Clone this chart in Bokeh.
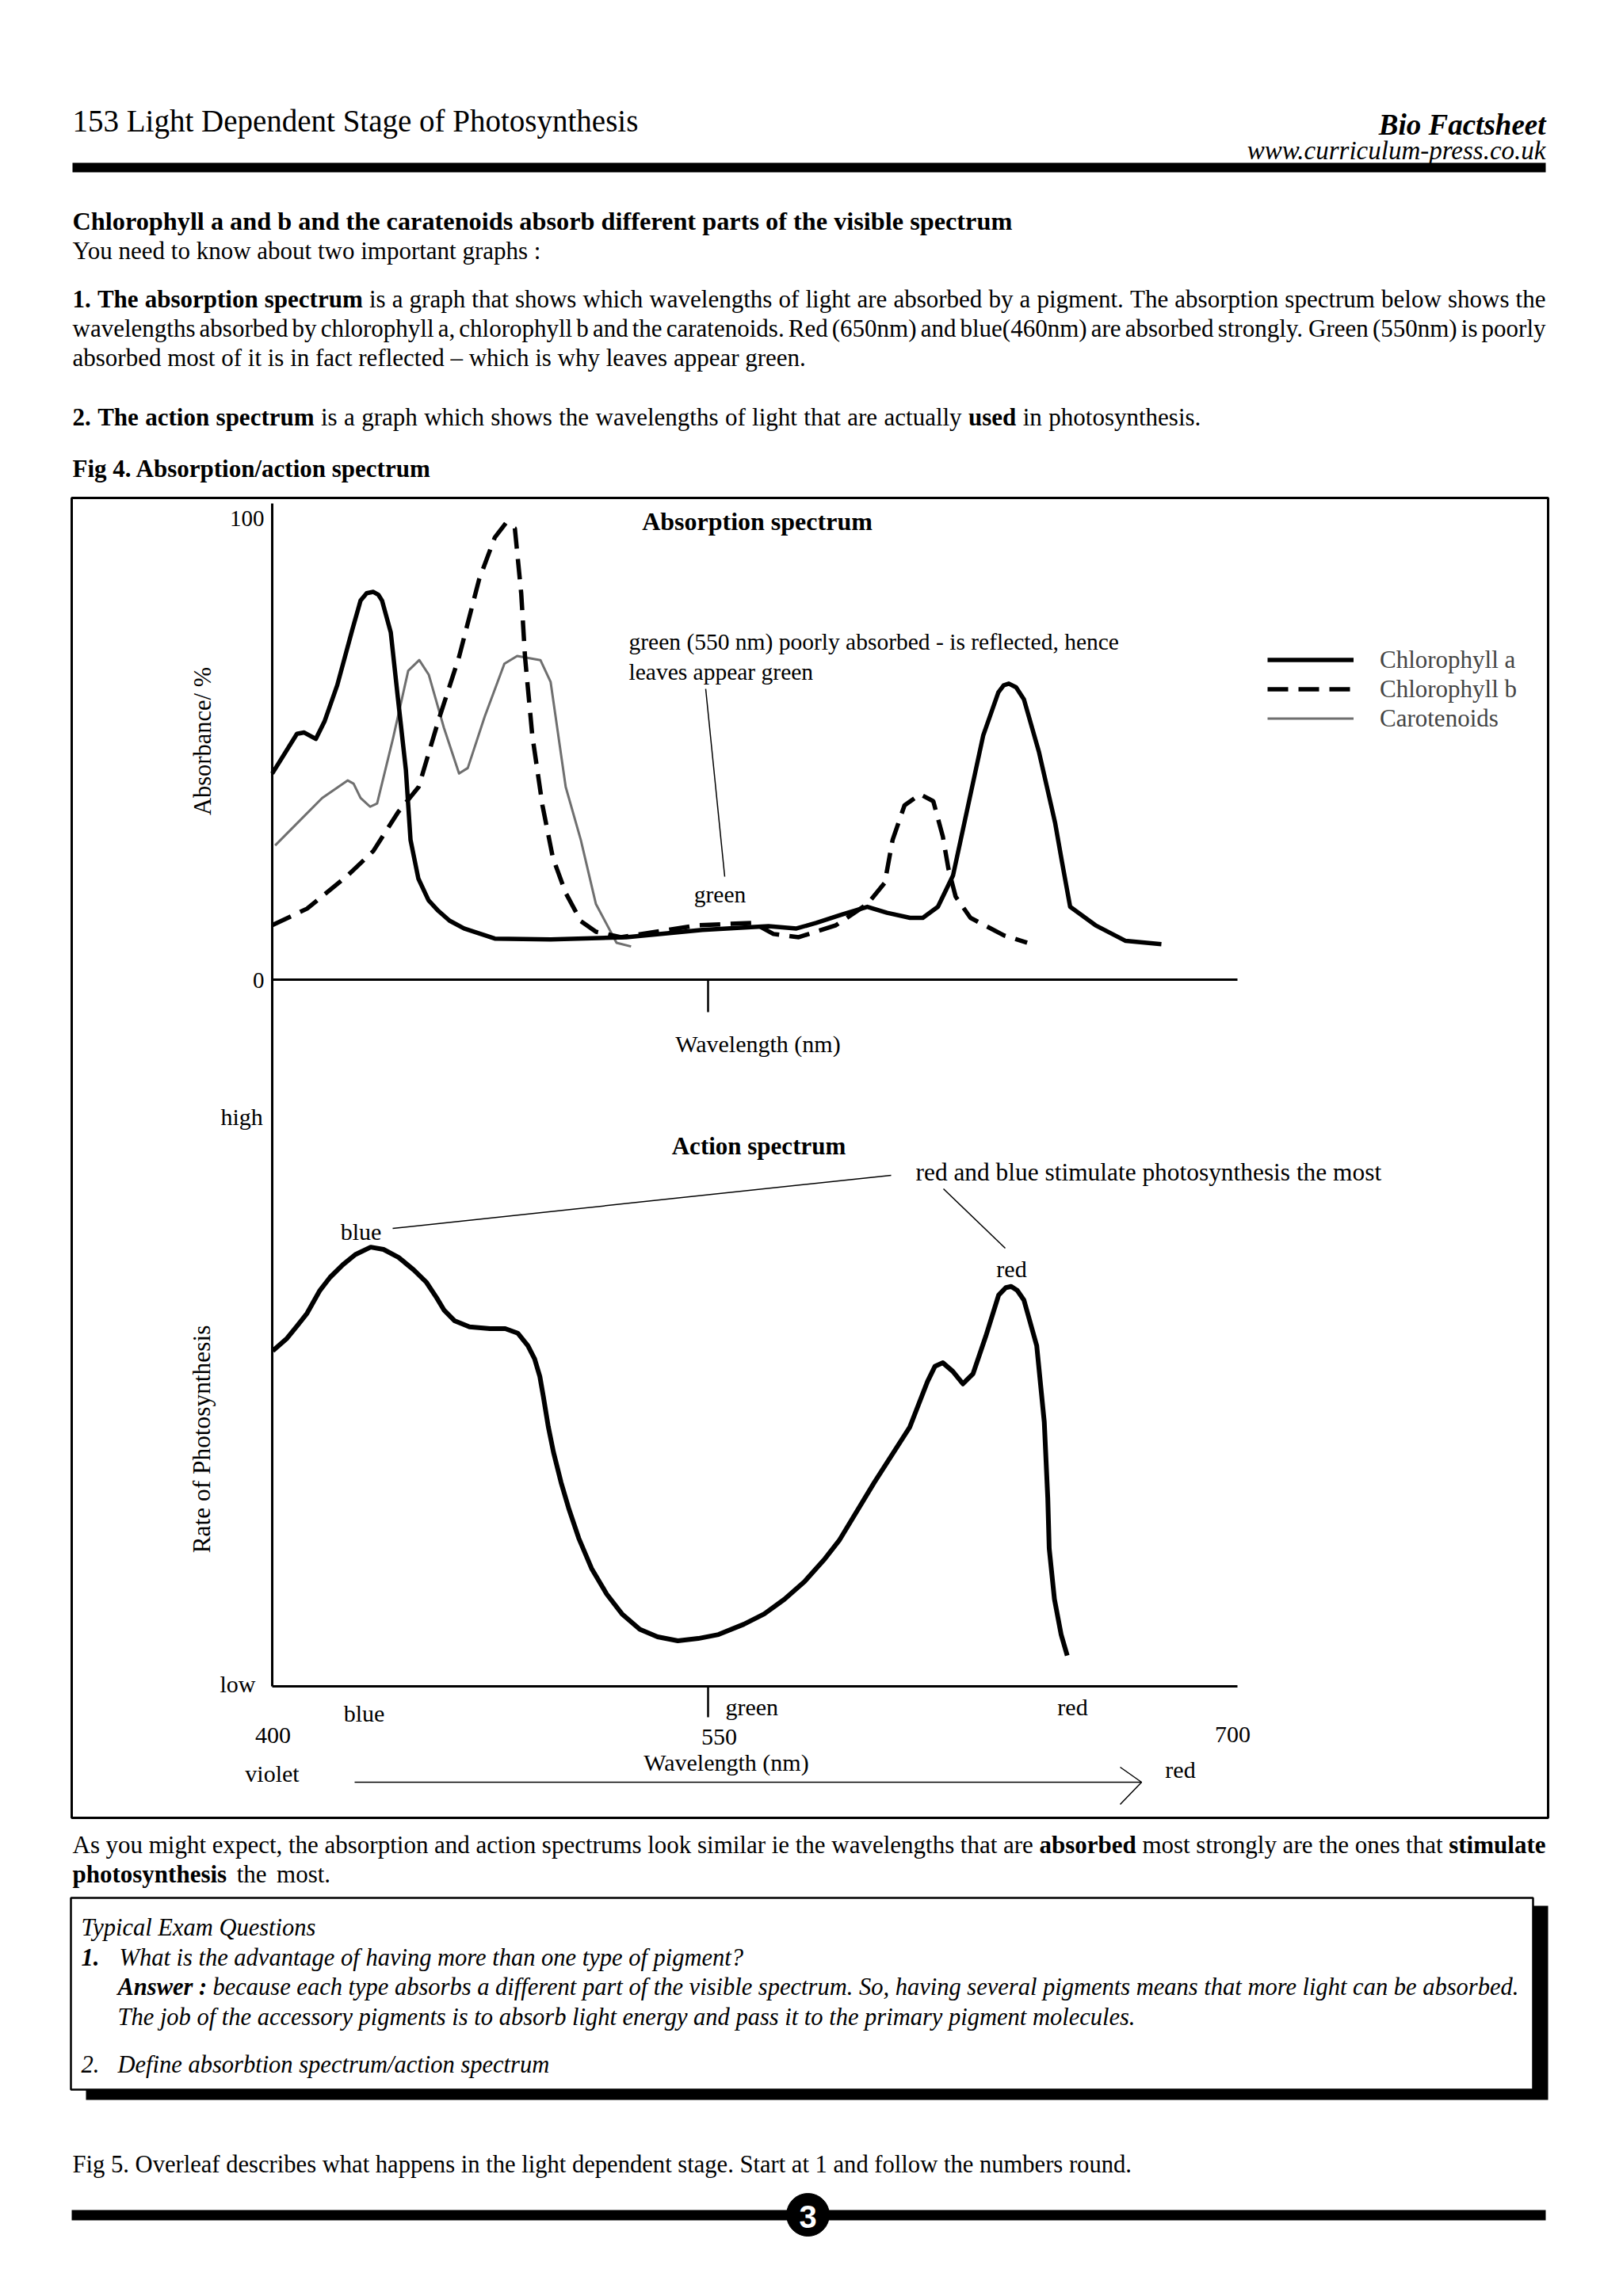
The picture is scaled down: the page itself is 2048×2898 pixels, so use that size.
import math
from bokeh.plotting import figure
from bokeh.models import Range1d, Legend, LegendItem
from bokeh.embed import file_html
from bokeh.resources import INLINE
from bokeh.core.properties import value

# ---------------- data ----------------
chl_a_nm = [400, 408.5, 411, 415, 418, 422.4, 427.6, 430.4, 432.5, 434.8, 436.5, 437.8, 440.8, 443.3,
            446, 447.6, 450.3, 453.8, 457.2, 461, 466, 476.6, 495.8, 521.8, 548, 570.8, 580.4, 587.2,
            596, 604.8, 611.6, 619.5, 623.9, 629.1, 634.3, 639.5, 644.7, 649.9, 651.7, 653.5, 656,
            658.7, 663.9, 669.4, 671.8, 674.6, 683.3, 693.7, 706]
chl_a_abs = [44.7, 53.3, 53.6, 52.2, 56, 63.9, 76, 82.2, 83.8, 84.1, 83.5, 82.2, 75.3, 60.8,
             45.5, 30.3, 21.9, 17.2, 14.9, 12.8, 11.1, 8.9, 8.7, 9.2, 10.8, 11.6, 11.1, 12.3,
             14.1, 15.8, 14.5, 13.4, 13.4, 15.8, 22.6, 37.8, 53, 62.3, 63.8, 64.2, 63.4,
             60.8, 49.3, 34.1, 25.5, 15.8, 11.8, 8.4, 7.7]

chl_b_nm = [400, 412, 426, 434.8, 443.3, 450.4, 457.2, 464.3, 471.2, 476.6, 480.4, 483.5, 485.7, 487,
            489.5, 493, 496.6, 501, 506.2, 511.4, 520, 546.5, 565.6, 572.5, 581.2, 594, 604.8, 610.8,
            613.5, 617.6, 623, 627.5, 630.8, 632.7, 635.2, 640.3, 651.8, 659.8]
chl_b_abs = [11.8, 15.4, 22.6, 27.9, 36.3, 41.8, 56.2, 70, 86.8, 95.9, 99, 97.9, 83.7, 70,
             53, 37.8, 26.4, 18.8, 12.7, 10.4, 9.2, 11.8, 12.3, 9.9, 9.2, 11.8, 16.4, 21,
             30.3, 37.8, 40.2, 38.7, 31, 24.1, 18, 13.4, 9.6, 8]

car_nm = [401, 417.2, 426, 428, 430.4, 433.7, 436.1, 441.6, 446.8, 450.6, 453.9, 459.1, 464.3, 467.3,
          473.1, 479.9, 484.3, 492.3, 495.8, 501, 506.2, 511.4, 518.5, 523.5]
car_abs = [29.1, 39.4, 43.2, 42.5, 39.4, 37.5, 38.2, 52.4, 67, 69.3, 66.1, 54.6, 44.7, 45.9,
           57, 68.5, 70.2, 69.3, 64.6, 41.8, 30.3, 16.4, 8, 7.2]

action_nm = [400.2, 405.1, 408.6, 412, 416.4, 419.9, 424.3, 428.6, 433.9, 438.3, 443.5, 448.7, 453.1,
             456.6, 459.2, 462.7, 467.9, 474.9, 480.2, 484.5, 488, 490.3, 492.1, 493.3, 495, 496.8,
             499.4, 502, 505.5, 509.9, 515.1, 520.4, 526.5, 532.6, 539.6, 546.6, 553.6, 562.3, 569.3,
             576.3, 583.2, 590.2, 595.1, 607.2, 619.4, 625.5, 628.1, 630.8, 634.2, 637.7, 641.2, 645.6,
             650, 652.5, 654.3, 656.4, 658.7, 663.1, 665.7, 666.9, 667.4, 669.2, 671.5, 673.6]
action_rate = [58.9, 61.1, 63.3, 65.5, 69.5, 71.8, 74, 75.8, 77.1, 76.7, 75.3, 73.1, 70.9,
               68.2, 66, 64.2, 63.1, 62.8, 62.8, 62, 59.8, 57.5, 54.4, 50.9, 45.6, 41.1,
               35.8, 31.3, 26, 20.7, 16.2, 12.7, 10, 8.7, 8, 8.4, 9.1, 10.9, 12.7,
               15.3, 18.4, 22.4, 25.6, 35.8, 45.5, 53.5, 56.2, 56.8, 55.3, 53.1, 54.9, 61.5,
               68.7, 70, 70.2, 69.5, 67.8, 59.8, 46.4, 33.1, 24.2, 15.3, 9.1, 5.4]

legend_labels = ["Chlorophyll a", "Chlorophyll b", "Carotenoids"]
abs_ytick_labels = ["100", "0"]
act_ytick_labels = ["high", "low"]
x_tick_labels = ["400", "550", "700"]
band_labels = ["blue", "green", "red"]

# ---------------- page ----------------
W, H = 2032, 2882
p = figure(width=W, height=H, x_range=Range1d(8, 8 + W), y_range=Range1d(8 + H, 8),
           output_backend="svg", toolbar_location=None, min_border=0)
p.axis.visible = False
p.grid.visible = False
p.outline_line_color = None
p.background_fill_color = "white"
p.border_fill_color = "white"

SERIF = "Liberation Serif"
BODY = 31
LEFT, RIGHT = 99, 1958

# Times-compatible advance widths (1/1000 em) used to lay out justified lines
_R = dict(zip("ABCDEFGHIJKLMNOPQRSTUVWXYZ",
              [722, 667, 667, 722, 611, 556, 722, 722, 333, 389, 722, 611, 889, 722, 722, 556, 722, 667,
               556, 611, 722, 722, 944, 722, 722, 611]))
_R.update(zip("abcdefghijklmnopqrstuvwxyz",
              [444, 500, 444, 500, 444, 333, 500, 500, 278, 278, 500, 278, 778, 500, 500, 500, 500, 333,
               389, 278, 500, 500, 722, 500, 500, 444]))
_R.update({" ": 250, ".": 250, ",": 250, ":": 278, ";": 278, "(": 333, ")": 333, "-": 333,
           "/": 278, "%": 833, "?": 444, "\u2013": 500})
_R.update({d: 500 for d in "0123456789"})
_B = dict(zip("ABCDEFGHIJKLMNOPQRSTUVWXYZ",
              [722, 667, 722, 722, 667, 611, 778, 778, 389, 500, 778, 667, 944, 722, 778, 611, 778, 722,
               556, 667, 722, 722, 1000, 722, 722, 667]))
_B.update(zip("abcdefghijklmnopqrstuvwxyz",
              [500, 556, 444, 556, 444, 333, 500, 556, 278, 333, 556, 278, 833, 556, 500, 556, 556, 444,
               389, 333, 556, 500, 722, 500, 500, 444]))
_B.update({" ": 250, ".": 250, ",": 250, ":": 333, "(": 333, ")": 333, "-": 333, "/": 278})
_B.update({d: 500 for d in "0123456789"})


def wwidth(word, style, size):
    t = _B if "bold" in style else _R
    return sum(t.get(c, 500) for c in word) * size / 1000.0


def txt(x, y, s, size=BODY, style="normal", align="left", baseline="alphabetic",
        angle=0.0, color="black", font=SERIF):
    p.text(x=[x], y=[y], text=[s], text_font=value(font), text_font_size=f"{size}px",
           text_font_style=style, text_align=align, text_baseline=baseline,
           angle=angle, text_color=color)


def words_line(y, runs, x0=LEFT, size=BODY, x1=None, gap=None):
    words = [(w, st) for t, st in runs for w in t.split(" ") if w]
    widths = [wwidth(w, st, size) for w, st in words]
    if x1 is not None:
        g = (x1 - x0 - sum(widths)) / (len(words) - 1)
    else:
        g = gap if gap is not None else 0.25 * size
    xs, x = [], x0
    for wd in widths:
        xs.append(x)
        x += wd + g
    for st in sorted(set(s for _, s in words)):
        idx = [i for i, (_, s) in enumerate(words) if s == st]
        p.text(x=[xs[i] for i in idx], y=[y] * len(idx), text=[words[i][0] for i in idx],
               text_font=value(SERIF), text_font_size=f"{size}px", text_font_style=st,
               text_align="left", text_baseline="alphabetic", text_color="black")


# header
txt(LEFT, 160, "153 Light Dependent Stage of Photosynthesis", 39)
txt(RIGHT, 165, "Bio Factsheet", 37, "bold italic", "right")
txt(RIGHT, 197, "www.curriculum-press.co.uk", 33, "italic", "right")
p.quad(left=[LEFT], right=[RIGHT], top=[213], bottom=[225], fill_color="black", line_color=None)

# body text
txt(LEFT, 286, "Chlorophyll a and b and the caratenoids absorb different parts of the visible spectrum", 32.3, "bold")
txt(LEFT, 324, "You need to know about two important graphs :")
words_line(385, [("1. The absorption spectrum", "bold"),
                 ("is a graph that shows which wavelengths of light are absorbed by a pigment. "
                  "The absorption spectrum below shows the", "normal")], x1=RIGHT)
words_line(422, [("wavelengths absorbed by chlorophyll a, chlorophyll b and the caratenoids. "
                  "Red (650nm) and blue(460nm) are absorbed strongly. Green (550nm) is poorly", "normal")], x1=RIGHT)
txt(LEFT, 459, "absorbed most of it is in fact reflected \u2013 which is why leaves appear green.")
words_line(534, [("2. The action spectrum", "bold"),
                 ("is a graph which shows the wavelengths of light that are actually", "normal"),
                 ("used", "bold"), ("in photosynthesis.", "normal")], gap=8.4)
txt(LEFT, 599, "Fig 4. Absorption/action spectrum", BODY, "bold")

# figure box
p.quad(left=[98], right=[1961], top=[636], bottom=[2302], fill_color=None, line_color="black", line_width=3)

# ---------------- chart coordinate systems ----------------
AX_X, AX_R = 351, 1569
PX_PER_NM = (901 - AX_X) / 150.0
WL_MIN, WL_MAX = 400, 400 + (AX_R - AX_X) / PX_PER_NM
ABS_Y0, ABS_Y100, ABS_TOP = 1244, 662, 643
ACT_Y0, ACT_Y100 = 2136, 1417

abs_sub = p.subplot(x_source=Range1d(WL_MIN, WL_MAX), y_source=Range1d(0, 100),
                    x_target=Range1d(AX_X, AX_R), y_target=Range1d(ABS_Y0, ABS_Y100))
act_sub = p.subplot(x_source=Range1d(WL_MIN, WL_MAX), y_source=Range1d(0, 100),
                    x_target=Range1d(AX_X, AX_R), y_target=Range1d(ACT_Y0, ACT_Y100))

abs_tick = -41 / ((ABS_Y0 - ABS_Y100) / 100)
act_tick = -39 / ((ACT_Y0 - ACT_Y100) / 100)

# axes
p.segment(x0=[AX_X], y0=[ABS_TOP], x1=[AX_X], y1=[ACT_Y0], line_color="black", line_width=3)
abs_sub.segment(x0=[WL_MIN], y0=[0], x1=[WL_MAX], y1=[0], line_color="black", line_width=3)
act_sub.segment(x0=[WL_MIN], y0=[0], x1=[WL_MAX], y1=[0], line_color="black", line_width=3)
abs_sub.segment(x0=[550], y0=[0], x1=[550], y1=[abs_tick], line_color="black", line_width=2.5)
act_sub.segment(x0=[550], y0=[0], x1=[550], y1=[act_tick], line_color="black", line_width=2.5)

# absorption curves
r_car = abs_sub.line(car_nm, car_abs, line_color="#6f6f6f", line_width=3, line_join="round")
r_b = abs_sub.line(chl_b_nm, chl_b_abs, line_color="black", line_width=5.5, line_dash="26 13")
r_a = abs_sub.line(chl_a_nm, chl_a_abs, line_color="black", line_width=5.5, line_join="round")

# action curve
act_sub.line(action_nm, action_rate, line_color="black", line_width=6, line_join="round")

# absorption labels
txt(341, ABS_Y100, abs_ytick_labels[0], 29, align="right", baseline="middle")
txt(341, ABS_Y0 + 1, abs_ytick_labels[1], 29, align="right", baseline="middle")
txt(263, 943, "Absorbance/ %", 30.5, align="center", baseline="middle", angle=math.pi / 2)
txt(963, 665, "Absorption spectrum", 32, "bold", "center", "middle")
txt(801, 817, "green (550 nm) poorly absorbed - is reflected, hence", 29.5)
txt(801, 855, "leaves appear green", 29.5)
p.segment(x0=[898], y0=[877], x1=[922], y1=[1114], line_color="black", line_width=1.5)
txt(916, 1136, band_labels[1], 29.5, align="center", baseline="middle")
txt(964, 1325, "Wavelength (nm)", 30, align="center", baseline="middle")

legend = Legend(items=[LegendItem(label=legend_labels[0], renderers=[r_a]),
                       LegendItem(label=legend_labels[1], renderers=[r_b]),
                       LegendItem(label=legend_labels[2], renderers=[r_car])],
                location=(1599, 1957), orientation="vertical",
                glyph_width=109, glyph_height=37, label_height=37, label_standoff=33,
                spacing=0, padding=0, margin=0, border_line_color=None,
                background_fill_alpha=0, label_text_font=SERIF, label_text_font_size="31px")
p.add_layout(legend)

# action labels
txt(286, ACT_Y100, act_ytick_labels[0], 30, baseline="middle")
txt(285, ACT_Y0 - 3, act_ytick_labels[1], 30, baseline="middle")
txt(262, 1824, "Rate of Photosynthesis", 31.4, align="center", baseline="middle", angle=math.pi / 2)
txt(965, 1454, "Action spectrum", 31, "bold", "center", "middle")
txt(1163, 1487, "red and blue stimulate photosynthesis the most", 31.4, baseline="middle")
p.segment(x0=[503, 1198], y0=[1558, 1508], x1=[1132, 1276], y1=[1491, 1583], line_color="black", line_width=1.5)
txt(463, 1562, band_labels[0], 30, align="center", baseline="middle")
txt(1284, 1609, band_labels[2], 30, align="center", baseline="middle")

txt(467, 2170, band_labels[0], 30, align="center", baseline="middle")
txt(923, 2162, band_labels[1], 30, baseline="middle")
txt(1361, 2162, band_labels[2], 30, align="center", baseline="middle")
txt(352, 2198, x_tick_labels[0], 30, align="center", baseline="middle")
txt(915, 2200, x_tick_labels[1], 30, align="center", baseline="middle")
txt(1563, 2197, x_tick_labels[2], 30, align="center", baseline="middle")
txt(924, 2232, "Wavelength (nm)", 30, align="center", baseline="middle")
txt(351, 2246, "violet", 30, align="center", baseline="middle")
txt(1497, 2241, band_labels[2], 30, align="center", baseline="middle")
p.segment(x0=[455], y0=[2257], x1=[1448], y1=[2257], line_color="black", line_width=1.5)
p.line(x=[1421, 1448, 1421], y=[2238, 2257, 2285], line_color="black", line_width=1.5)

# text under the figure
words_line(2336, [("As you might expect, the absorption and action spectrums look similar ie the wavelengths that are", "normal"),
                  ("absorbed", "bold"), ("most strongly are the ones that", "normal"),
                  ("stimulate", "bold")], x1=RIGHT)
words_line(2373, [("photosynthesis", "bold"), ("the most.", "normal")], gap=12.5)

# exam question box
p.quad(left=[116], right=[1961], top=[2413], bottom=[2658], fill_color="black", line_color=None)
p.quad(left=[97], right=[1942], top=[2403], bottom=[2645], fill_color="white", line_color="black", line_width=2.5)
IT = 30.5
txt(110, 2440, "Typical Exam Questions", IT, "italic")
txt(110, 2478, "1.", IT, "bold italic")
txt(158, 2478, "What is the advantage of having more than one type of pigment?", IT, "italic")
txt(156, 2515, "Answer :", IT, "bold italic")
txt(276, 2515, "because each type absorbs a different part of the visible spectrum. So, having several pigments means that more light can be absorbed.", IT, "italic")
txt(156, 2553, "The job of the accessory pigments is to absorb light energy and pass it to the primary pigment molecules.", IT, "italic")
txt(110, 2613, "2.", IT, "italic")
txt(156, 2613, "Define absorbtion spectrum/action spectrum", IT, "italic")

txt(LEFT, 2739, "Fig 5. Overleaf describes what happens in the light dependent stage. Start at 1 and follow the numbers round.", 30.6)

# footer
p.quad(left=[98], right=[RIGHT], top=[2797], bottom=[2810], fill_color="black", line_color=None)
p.circle(x=[1027], y=[2803], radius=27, fill_color="black", line_color="black")
txt(1027, 2805, "3", 40, "bold", "center", "middle", color="white", font="Liberation Sans")

open("out.html", "w").write(file_html(p, INLINE))
